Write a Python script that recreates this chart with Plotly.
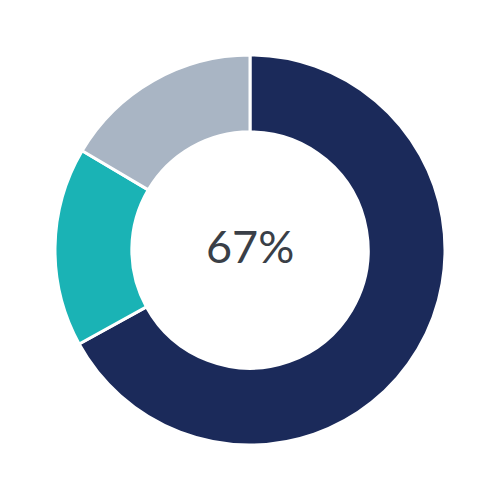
import plotly.graph_objects as go

labels = ["A", "B", "C"]
values = [67, 16.5, 16.5]
colors = ["#1b2a5a", "#1ab3b5", "#a9b5c4"]
center_label = "67%"

fig = go.Figure(go.Pie(
    labels=labels,
    values=values,
    hole=0.606,
    sort=False,
    direction="clockwise",
    rotation=0,
    marker=dict(colors=colors, line=dict(color="white", width=3)),
    textinfo="none",
    hoverinfo="label+percent",
    showlegend=False,
))
fig.add_annotation(text=center_label, x=0.5, y=0.51, xref="paper", yref="paper",
                   showarrow=False, font=dict(family="Lato", size=45, color="#3a3f47"))
fig.update_layout(width=500, height=500, margin=dict(l=47, r=63, t=47, b=63),
                  paper_bgcolor="white", plot_bgcolor="white")
fig.write_html("out.html")
